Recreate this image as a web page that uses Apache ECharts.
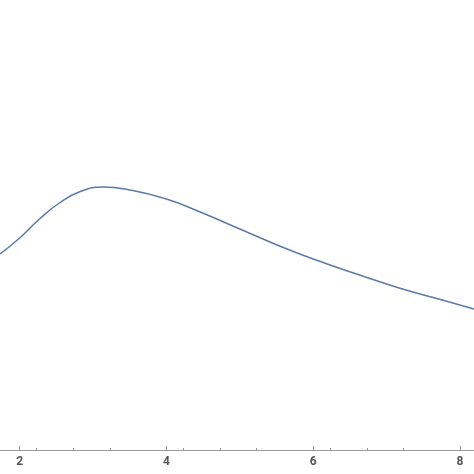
<!DOCTYPE html>
<html><head><meta charset="utf-8">
<script src="https://cdn.jsdelivr.net/npm/echarts@6/dist/echarts.min.js"></script>
<style>html,body{margin:0;padding:0;background:#fff}#c{width:474px;height:474px}</style>
</head><body><div id="c"></div>
<script>
const xValues = [1.732, 2.0, 2.27, 2.54, 2.81, 3.13, 3.5, 4.0, 4.46, 5.0, 5.54, 6.0, 6.63, 7.17, 7.71, 8.19];
const yValues = [196, 212, 231, 247, 258, 263, 260, 251, 238, 221, 204, 191, 175, 162, 151, 141];
const chart = echarts.init(document.getElementById('c'));
chart.setOption({
  animation: false,
  grid: {left: 0, right: 0, top: 0, bottom: 24},
  xAxis: {
    type: 'value', min: 1.732, max: 8.19, interval: 2,
    axisLine: {lineStyle: {color: '#999', width: 1}},
    axisTick: {inside: true, length: 4, lineStyle: {color: '#999'}, customValues: [2,4,6,8]},
    minorTick: {show: true, splitNumber: 4, length: 2, lineStyle: {color: '#999'}},
    splitLine: {show: false},
    axisLabel: {color: '#555', fontWeight: 'bold', fontSize: 12, margin: 6, customValues: [2,4,6,8], fontFamily: 'Roboto'}
  },
  yAxis: {type: 'value', min: 0, max: 450, show: false},
  series: [{
    type: 'line', smooth: true, showSymbol: false,
    lineStyle: {color: '#5a7aa8', width: 1.5},
    data: xValues.map((x, i) => [x, yValues[i]])
  }]
});
</script></body></html>
